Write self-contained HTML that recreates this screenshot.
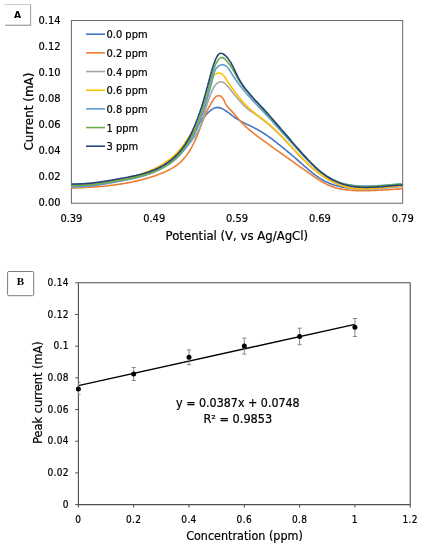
<!DOCTYPE html>
<html lang="en"><head><meta charset="utf-8"><title>Figure</title>
<style>html,body{margin:0;padding:0;background:#fff}svg{display:block}text{font-family:"DejaVu Sans Condensed", "Liberation Sans", sans-serif;fill:#000;stroke:#000;stroke-width:0.2px}</style>
</head><body>
<svg width="425" height="550" viewBox="0 0 425 550">
<rect width="425" height="550" fill="#fff"/>
<path d="M4.5 4.6H30.6" fill="none" stroke="#c8c8c8" stroke-width="1"/>
<path d="M30.6 4.6V25.2" fill="none" stroke="#9c9c9c" stroke-width="1"/>
<path d="M5 25.2H31.1" fill="none" stroke="#8a8a8a" stroke-width="1"/>
<text x="17.5" y="17.6" font-size="9.2" font-weight="bold" text-anchor="middle" style="font-family:'DejaVu Sans',sans-serif;stroke:none">A</text>
<rect x="71.4" y="20.5" width="331.3" height="182.7" fill="none" stroke="#606060" stroke-width="0.95"/>
<clipPath id="ca"><rect x="71.4" y="20.5" width="331.3" height="182.7"/></clipPath>
<g clip-path="url(#ca)" fill="none" stroke-width="1.6" stroke-linejoin="round" stroke-linecap="round">
<path d="M71.5 184.8C71.8 184.8 72.8 184.8 73.5 184.7C74.2 184.7 74.8 184.7 75.5 184.6C76.2 184.6 76.8 184.5 77.5 184.5C78.2 184.5 78.8 184.4 79.5 184.4C80.2 184.3 80.8 184.3 81.5 184.2C82.2 184.2 82.8 184.2 83.5 184.1C84.2 184.1 84.8 184.0 85.5 184.0C86.2 183.9 86.8 183.9 87.5 183.8C88.2 183.7 88.8 183.7 89.5 183.6C90.2 183.6 90.8 183.5 91.5 183.5C92.1 183.4 92.8 183.3 93.5 183.3C94.1 183.2 94.8 183.1 95.5 183.1C96.1 183.0 96.8 182.9 97.4 182.8C98.1 182.8 98.8 182.7 99.4 182.6C100.1 182.5 100.8 182.5 101.4 182.4C102.1 182.3 102.7 182.2 103.4 182.1C104.0 182.1 104.7 182.0 105.4 181.9C106.0 181.8 106.7 181.7 107.3 181.6C108.0 181.5 108.7 181.4 109.3 181.3C110.0 181.2 110.6 181.1 111.3 181.0C111.9 180.9 112.6 180.8 113.3 180.7C113.9 180.6 114.6 180.5 115.2 180.4C115.9 180.3 116.5 180.2 117.2 180.0C117.8 179.9 118.5 179.8 119.1 179.7C119.8 179.6 120.4 179.4 121.1 179.3C121.8 179.2 122.4 179.0 123.1 178.9C123.7 178.8 124.4 178.6 125.0 178.5C125.7 178.4 126.3 178.2 127.0 178.1C127.6 177.9 128.3 177.8 128.9 177.6C129.6 177.5 130.2 177.3 130.9 177.2C131.5 177.0 132.2 176.9 132.8 176.7C133.5 176.6 134.1 176.4 134.8 176.2C135.4 176.1 136.0 175.9 136.7 175.7C137.3 175.5 138.0 175.4 138.6 175.2C139.3 175.0 139.9 174.8 140.6 174.6C141.2 174.5 141.9 174.3 142.5 174.1C143.1 173.9 143.8 173.7 144.4 173.5C145.1 173.3 145.7 173.1 146.4 172.9C147.0 172.7 147.6 172.5 148.3 172.3C148.9 172.1 149.6 171.8 150.2 171.6C150.8 171.4 151.5 171.2 152.1 170.9C152.7 170.7 153.4 170.5 154.0 170.2C154.6 170.0 155.3 169.7 155.9 169.5C156.5 169.2 157.1 169.0 157.7 168.7C158.3 168.4 158.9 168.2 159.6 167.9C160.2 167.6 160.8 167.3 161.4 167.0C161.9 166.7 162.5 166.4 163.1 166.1C163.7 165.8 164.3 165.5 164.9 165.2C165.4 164.8 166.0 164.5 166.6 164.1C167.1 163.8 167.7 163.4 168.2 163.1C168.8 162.7 169.3 162.3 169.8 162.0C170.4 161.6 170.9 161.2 171.4 160.8C171.9 160.4 172.4 160.0 172.9 159.5C173.4 159.1 173.9 158.7 174.4 158.2C174.9 157.8 175.4 157.4 175.8 156.9C176.3 156.4 176.8 156.0 177.2 155.5C177.7 155.0 178.2 154.5 178.6 154.1C179.0 153.6 179.5 153.1 179.9 152.6C180.3 152.1 180.8 151.6 181.2 151.0C181.6 150.5 182.0 150.0 182.4 149.5C182.9 149.0 183.3 148.4 183.7 147.9C184.1 147.3 184.4 146.8 184.8 146.3C185.2 145.7 185.6 145.2 186.0 144.6C186.4 144.0 186.7 143.5 187.1 142.9C187.5 142.4 187.8 141.8 188.2 141.2C188.6 140.6 188.9 140.1 189.3 139.5C189.6 138.9 190.0 138.3 190.4 137.8C190.7 137.2 191.1 136.6 191.4 136.0C191.8 135.5 192.1 134.9 192.5 134.3C192.8 133.7 193.2 133.1 193.5 132.6C193.9 132.0 194.2 131.4 194.6 130.8C194.9 130.2 195.3 129.7 195.6 129.1C196.0 128.5 196.3 127.9 196.7 127.4C197.0 126.8 197.4 126.2 197.7 125.7C198.1 125.1 198.5 124.6 198.8 124.0C199.2 123.4 199.6 122.9 200.0 122.4C200.3 121.8 200.7 121.3 201.1 120.7C201.5 120.2 201.9 119.7 202.3 119.1C202.7 118.6 203.1 118.1 203.5 117.6C204.0 117.1 204.4 116.6 204.8 116.1C205.3 115.6 205.7 115.1 206.2 114.6C206.6 114.1 207.1 113.7 207.5 113.2C208.0 112.7 208.5 112.3 209.0 111.8C209.5 111.4 210.0 111.0 210.5 110.5C211.1 110.1 211.6 109.7 212.1 109.4C212.7 109.0 213.2 108.7 213.8 108.4C214.4 108.1 214.9 107.9 215.5 107.7C216.1 107.5 216.7 107.4 217.2 107.4C217.8 107.4 218.4 107.5 219.0 107.6C219.6 107.7 220.2 107.9 220.7 108.1C221.3 108.4 221.9 108.6 222.5 108.9C223.1 109.2 223.7 109.5 224.3 109.9C224.8 110.2 225.4 110.6 226.0 111.0C226.6 111.4 227.1 111.8 227.7 112.2C228.3 112.6 228.9 113.0 229.5 113.5C230.0 113.9 230.6 114.3 231.2 114.8C231.8 115.2 232.3 115.6 232.9 116.1C233.5 116.5 234.1 116.9 234.6 117.3C235.2 117.7 235.8 118.1 236.4 118.5C237.0 118.9 237.5 119.2 238.1 119.6C238.7 119.9 239.3 120.3 239.8 120.6C240.4 120.9 241.0 121.3 241.6 121.6C242.2 121.9 242.7 122.2 243.3 122.5C243.9 122.8 244.5 123.1 245.1 123.4C245.6 123.7 246.2 124.0 246.8 124.2C247.4 124.5 247.9 124.8 248.5 125.1C249.1 125.3 249.7 125.6 250.3 125.9C250.8 126.2 251.4 126.5 252.0 126.7C252.6 127.0 253.1 127.3 253.7 127.6C254.3 127.9 254.9 128.2 255.4 128.5C256.0 128.8 256.6 129.1 257.2 129.4C257.7 129.7 258.3 130.0 258.9 130.3C259.4 130.7 260.0 131.0 260.6 131.3C261.1 131.7 261.7 132.0 262.3 132.4C262.8 132.7 263.4 133.1 264.0 133.5C264.5 133.8 265.1 134.2 265.6 134.6C266.2 135.0 266.8 135.3 267.3 135.7C267.9 136.1 268.4 136.5 269.0 136.9C269.5 137.3 270.1 137.7 270.6 138.1C271.2 138.5 271.7 138.9 272.3 139.3C272.8 139.7 273.4 140.1 273.9 140.6C274.5 141.0 275.0 141.4 275.5 141.8C276.1 142.2 276.6 142.6 277.2 143.1C277.7 143.5 278.2 143.9 278.7 144.3C279.3 144.7 279.8 145.2 280.3 145.6C280.9 146.0 281.4 146.4 281.9 146.9C282.4 147.3 282.9 147.7 283.5 148.1C284.0 148.5 284.5 149.0 285.0 149.4C285.5 149.8 286.0 150.2 286.5 150.6C287.0 151.1 287.5 151.5 288.0 151.9C288.5 152.3 289.1 152.8 289.6 153.2C290.1 153.6 290.6 154.0 291.1 154.5C291.6 154.9 292.1 155.3 292.6 155.7C293.1 156.2 293.6 156.6 294.1 157.0C294.6 157.4 295.1 157.9 295.5 158.3C296.0 158.7 296.5 159.2 297.0 159.6C297.5 160.0 298.0 160.4 298.5 160.9C299.0 161.3 299.5 161.8 300.0 162.2C300.5 162.6 301.0 163.1 301.5 163.5C302.0 164.0 302.5 164.4 303.0 164.8C303.6 165.3 304.1 165.7 304.6 166.2C305.1 166.6 305.6 167.1 306.1 167.5C306.6 168.0 307.1 168.4 307.6 168.9C308.1 169.3 308.7 169.8 309.2 170.2C309.7 170.6 310.2 171.1 310.7 171.5C311.3 171.9 311.8 172.4 312.3 172.8C312.8 173.2 313.4 173.6 313.9 174.1C314.4 174.5 315.0 174.9 315.5 175.3C316.1 175.7 316.6 176.1 317.2 176.5C317.7 176.8 318.3 177.2 318.8 177.6C319.4 178.0 319.9 178.3 320.5 178.7C321.1 179.0 321.6 179.4 322.2 179.7C322.8 180.0 323.3 180.4 323.9 180.7C324.5 181.0 325.1 181.3 325.7 181.6C326.3 181.9 326.9 182.1 327.5 182.4C328.1 182.7 328.7 182.9 329.3 183.2C329.9 183.4 330.5 183.7 331.1 183.9C331.7 184.1 332.3 184.4 332.9 184.6C333.5 184.8 334.2 185.0 334.8 185.2C335.4 185.4 336.0 185.6 336.7 185.7C337.3 185.9 337.9 186.1 338.6 186.2C339.2 186.4 339.9 186.6 340.5 186.7C341.1 186.8 341.8 187.0 342.4 187.1C343.1 187.2 343.7 187.3 344.4 187.5C345.0 187.6 345.7 187.7 346.3 187.8C347.0 187.9 347.6 188.0 348.3 188.0C349.0 188.1 349.6 188.2 350.3 188.3C351.0 188.3 351.6 188.4 352.3 188.5C352.9 188.5 353.6 188.6 354.3 188.6C355.0 188.6 355.6 188.7 356.3 188.7C357.0 188.7 357.6 188.8 358.3 188.8C359.0 188.8 359.7 188.8 360.3 188.8C361.0 188.8 361.7 188.8 362.4 188.8C363.0 188.8 363.7 188.8 364.4 188.8C365.1 188.8 365.7 188.8 366.4 188.7C367.1 188.7 367.8 188.7 368.5 188.7C369.1 188.6 369.8 188.6 370.5 188.6C371.2 188.5 371.8 188.5 372.5 188.4C373.2 188.4 373.9 188.4 374.6 188.3C375.2 188.3 375.9 188.2 376.6 188.2C377.3 188.1 377.9 188.0 378.6 188.0C379.3 187.9 380.0 187.9 380.6 187.8C381.3 187.7 382.0 187.7 382.6 187.6C383.3 187.6 384.0 187.5 384.7 187.4C385.3 187.4 386.0 187.3 386.7 187.2C387.3 187.2 388.0 187.1 388.6 187.0C389.3 187.0 390.0 186.9 390.6 186.9C391.3 186.8 391.9 186.7 392.6 186.7C393.2 186.6 393.9 186.5 394.5 186.5C395.2 186.4 395.8 186.4 396.5 186.3C397.1 186.3 397.8 186.2 398.4 186.2C399.0 186.1 399.7 186.1 400.3 186.0C400.9 186.0 401.7 185.9 402.2 185.9C402.7 185.9 403.2 185.8 403.4 185.8" stroke="#4472C4"/>
<path d="M71.5 188.0C71.8 188.0 72.8 188.0 73.5 187.9C74.2 187.9 74.8 187.9 75.5 187.9C76.2 187.8 76.8 187.8 77.5 187.8C78.2 187.8 78.8 187.7 79.5 187.7C80.2 187.7 80.8 187.7 81.5 187.6C82.2 187.6 82.8 187.6 83.5 187.5C84.2 187.5 84.8 187.5 85.5 187.4C86.2 187.4 86.8 187.4 87.5 187.3C88.2 187.3 88.8 187.3 89.5 187.2C90.2 187.2 90.8 187.1 91.5 187.1C92.2 187.1 92.8 187.0 93.5 187.0C94.2 186.9 94.8 186.9 95.5 186.8C96.2 186.8 96.8 186.7 97.5 186.7C98.2 186.6 98.8 186.6 99.5 186.5C100.1 186.5 100.8 186.4 101.5 186.3C102.1 186.3 102.8 186.2 103.5 186.2C104.1 186.1 104.8 186.0 105.4 186.0C106.1 185.9 106.8 185.8 107.4 185.8C108.1 185.7 108.7 185.6 109.4 185.5C110.1 185.5 110.7 185.4 111.4 185.3C112.1 185.2 112.7 185.1 113.4 185.1C114.0 185.0 114.7 184.9 115.3 184.8C116.0 184.7 116.7 184.6 117.3 184.5C118.0 184.4 118.6 184.3 119.3 184.2C119.9 184.1 120.6 184.0 121.3 183.9C121.9 183.8 122.6 183.7 123.2 183.6C123.9 183.5 124.5 183.4 125.2 183.3C125.8 183.2 126.5 183.0 127.2 182.9C127.8 182.8 128.5 182.7 129.1 182.5C129.8 182.4 130.4 182.3 131.1 182.2C131.7 182.0 132.4 181.9 133.0 181.7C133.7 181.6 134.3 181.5 135.0 181.3C135.6 181.2 136.3 181.0 136.9 180.9C137.6 180.7 138.2 180.6 138.9 180.4C139.5 180.3 140.2 180.1 140.8 179.9C141.5 179.8 142.1 179.6 142.7 179.4C143.4 179.3 144.0 179.1 144.7 178.9C145.3 178.7 146.0 178.5 146.6 178.4C147.3 178.2 147.9 178.0 148.5 177.8C149.2 177.6 149.8 177.4 150.5 177.2C151.1 177.0 151.7 176.8 152.4 176.6C153.0 176.4 153.7 176.2 154.3 176.0C154.9 175.8 155.6 175.5 156.2 175.3C156.8 175.1 157.5 174.9 158.1 174.6C158.8 174.4 159.4 174.2 160.0 173.9C160.6 173.7 161.3 173.4 161.9 173.2C162.5 172.9 163.1 172.7 163.8 172.4C164.4 172.1 165.0 171.9 165.6 171.6C166.2 171.3 166.8 171.0 167.4 170.7C168.0 170.4 168.6 170.1 169.2 169.8C169.8 169.5 170.4 169.2 171.0 168.9C171.5 168.6 172.1 168.2 172.7 167.9C173.2 167.6 173.8 167.2 174.4 166.9C174.9 166.5 175.4 166.1 176.0 165.8C176.5 165.4 177.0 165.0 177.6 164.6C178.1 164.2 178.6 163.8 179.1 163.4C179.6 163.0 180.1 162.5 180.6 162.1C181.0 161.7 181.5 161.2 182.0 160.7C182.4 160.3 182.9 159.8 183.3 159.3C183.8 158.8 184.2 158.3 184.6 157.8C185.0 157.3 185.4 156.8 185.9 156.3C186.3 155.8 186.7 155.3 187.0 154.7C187.4 154.2 187.8 153.6 188.2 153.1C188.6 152.5 188.9 152.0 189.3 151.4C189.6 150.8 190.0 150.3 190.3 149.7C190.7 149.1 191.0 148.5 191.3 147.9C191.7 147.4 192.0 146.8 192.3 146.2C192.6 145.6 192.9 145.0 193.2 144.3C193.5 143.7 193.8 143.1 194.1 142.5C194.4 141.9 194.7 141.3 195.0 140.7C195.3 140.0 195.5 139.4 195.8 138.8C196.1 138.2 196.4 137.5 196.6 136.9C196.9 136.3 197.2 135.6 197.4 135.0C197.7 134.4 197.9 133.7 198.2 133.1C198.4 132.5 198.7 131.9 198.9 131.2C199.2 130.6 199.4 130.0 199.7 129.3C199.9 128.7 200.1 128.1 200.4 127.5C200.6 126.8 200.9 126.2 201.1 125.6C201.3 125.0 201.6 124.3 201.8 123.7C202.0 123.1 202.3 122.5 202.5 121.9C202.7 121.2 203.0 120.6 203.2 120.0C203.5 119.4 203.7 118.8 204.0 118.2C204.2 117.6 204.4 116.9 204.7 116.3C204.9 115.7 205.2 115.1 205.5 114.5C205.7 113.9 206.0 113.3 206.3 112.7C206.5 112.1 206.8 111.5 207.1 110.9C207.4 110.3 207.7 109.7 207.9 109.1C208.2 108.5 208.5 107.9 208.8 107.4C209.2 106.8 209.5 106.2 209.8 105.6C210.1 105.0 210.5 104.4 210.8 103.9C211.1 103.3 211.5 102.7 211.8 102.1C212.2 101.5 212.6 101.0 213.0 100.4C213.3 99.8 213.7 99.3 214.1 98.7C214.6 98.2 215.0 97.6 215.4 97.2C215.9 96.7 216.3 96.3 216.8 96.1C217.4 95.8 217.9 95.6 218.5 95.6C219.0 95.6 219.6 95.7 220.2 95.9C220.7 96.2 221.3 96.5 221.7 97.0C222.2 97.4 222.6 98.0 223.0 98.5C223.4 99.1 223.7 99.8 224.1 100.4C224.4 101.1 224.7 101.8 225.0 102.5C225.3 103.1 225.5 103.8 225.9 104.4C226.2 105.0 226.6 105.5 227.0 106.1C227.4 106.6 227.8 107.1 228.2 107.6C228.7 108.1 229.1 108.6 229.6 109.0C230.0 109.5 230.5 110.0 230.9 110.4C231.4 110.9 231.8 111.4 232.3 111.9C232.7 112.3 233.2 112.8 233.6 113.3C234.0 113.8 234.5 114.3 234.9 114.8C235.4 115.3 235.8 115.8 236.2 116.4C236.7 116.9 237.1 117.4 237.5 117.9C238.0 118.4 238.4 118.9 238.8 119.4C239.3 119.9 239.7 120.4 240.2 120.9C240.6 121.4 241.1 121.9 241.5 122.4C242.0 122.9 242.5 123.3 242.9 123.8C243.4 124.3 243.9 124.8 244.4 125.2C244.8 125.7 245.3 126.1 245.8 126.6C246.3 127.1 246.8 127.5 247.3 128.0C247.8 128.4 248.3 128.8 248.8 129.3C249.3 129.7 249.8 130.1 250.3 130.6C250.8 131.0 251.3 131.4 251.9 131.9C252.4 132.3 252.9 132.7 253.4 133.1C253.9 133.5 254.5 133.9 255.0 134.4C255.5 134.8 256.1 135.2 256.6 135.6C257.1 136.0 257.6 136.4 258.2 136.8C258.7 137.2 259.3 137.6 259.8 138.0C260.3 138.4 260.9 138.8 261.4 139.2C261.9 139.6 262.5 140.0 263.0 140.3C263.6 140.7 264.1 141.1 264.6 141.5C265.2 141.9 265.7 142.3 266.3 142.7C266.8 143.1 267.3 143.5 267.9 143.9C268.4 144.2 269.0 144.6 269.5 145.0C270.0 145.4 270.6 145.8 271.1 146.2C271.7 146.6 272.2 146.9 272.7 147.3C273.3 147.7 273.8 148.1 274.3 148.5C274.9 148.9 275.4 149.3 276.0 149.6C276.5 150.0 277.0 150.4 277.6 150.8C278.1 151.2 278.7 151.6 279.2 152.0C279.7 152.3 280.3 152.7 280.8 153.1C281.4 153.5 281.9 153.9 282.4 154.3C283.0 154.6 283.5 155.0 284.1 155.4C284.6 155.8 285.2 156.2 285.7 156.6C286.2 157.0 286.8 157.3 287.3 157.7C287.9 158.1 288.4 158.5 288.9 158.9C289.5 159.3 290.0 159.7 290.6 160.0C291.1 160.4 291.7 160.8 292.2 161.2C292.7 161.6 293.3 162.0 293.8 162.4C294.4 162.8 294.9 163.1 295.5 163.5C296.0 163.9 296.5 164.3 297.1 164.7C297.6 165.1 298.2 165.5 298.7 165.9C299.3 166.2 299.8 166.6 300.3 167.0C300.9 167.4 301.4 167.8 302.0 168.2C302.5 168.6 303.1 169.0 303.6 169.4C304.2 169.7 304.7 170.1 305.3 170.5C305.8 170.9 306.4 171.3 306.9 171.7C307.4 172.1 308.0 172.4 308.5 172.8C309.1 173.2 309.6 173.6 310.2 174.0C310.7 174.4 311.3 174.8 311.8 175.1C312.4 175.5 312.9 175.9 313.5 176.3C314.0 176.7 314.6 177.0 315.1 177.4C315.7 177.8 316.3 178.2 316.8 178.5C317.4 178.9 317.9 179.3 318.5 179.6C319.1 180.0 319.6 180.3 320.2 180.7C320.8 181.0 321.3 181.4 321.9 181.7C322.5 182.0 323.0 182.4 323.6 182.7C324.2 183.0 324.8 183.3 325.4 183.6C326.0 183.9 326.6 184.2 327.1 184.5C327.7 184.8 328.3 185.1 328.9 185.3C329.5 185.6 330.2 185.9 330.8 186.1C331.4 186.3 332.0 186.6 332.6 186.8C333.2 187.0 333.9 187.2 334.5 187.4C335.1 187.6 335.8 187.8 336.4 188.0C337.1 188.2 337.7 188.3 338.4 188.5C339.0 188.6 339.7 188.8 340.3 188.9C341.0 189.0 341.6 189.1 342.3 189.2C343.0 189.4 343.6 189.5 344.3 189.6C345.0 189.7 345.6 189.7 346.3 189.8C347.0 189.9 347.6 190.0 348.3 190.0C349.0 190.1 349.6 190.2 350.3 190.2C351.0 190.3 351.7 190.3 352.3 190.4C353.0 190.4 353.7 190.4 354.3 190.5C355.0 190.5 355.7 190.5 356.3 190.6C357.0 190.6 357.7 190.6 358.3 190.6C359.0 190.6 359.7 190.7 360.3 190.7C361.0 190.7 361.7 190.7 362.3 190.7C363.0 190.7 363.7 190.7 364.3 190.7C365.0 190.7 365.7 190.7 366.3 190.7C367.0 190.7 367.7 190.6 368.3 190.6C369.0 190.6 369.7 190.6 370.3 190.6C371.0 190.6 371.6 190.5 372.3 190.5C373.0 190.5 373.6 190.5 374.3 190.4C375.0 190.4 375.6 190.4 376.3 190.4C377.0 190.3 377.6 190.3 378.3 190.3C378.9 190.3 379.6 190.2 380.3 190.2C380.9 190.2 381.6 190.1 382.3 190.1C382.9 190.1 383.6 190.0 384.3 190.0C384.9 189.9 385.6 189.9 386.2 189.9C386.9 189.8 387.6 189.8 388.2 189.7C388.9 189.7 389.6 189.7 390.2 189.6C390.9 189.6 391.6 189.5 392.2 189.5C392.9 189.4 393.6 189.4 394.2 189.3C394.9 189.3 395.6 189.2 396.2 189.2C396.9 189.1 397.6 189.1 398.2 189.0C398.9 188.9 399.6 188.9 400.2 188.8C400.9 188.8 401.7 188.7 402.2 188.6C402.8 188.6 403.2 188.5 403.4 188.5" stroke="#ED7D31"/>
<path d="M71.5 186.7C71.8 186.6 72.9 186.6 73.5 186.6C74.2 186.6 74.8 186.6 75.5 186.6C76.2 186.5 76.8 186.5 77.5 186.5C78.1 186.5 78.8 186.4 79.5 186.4C80.1 186.4 80.8 186.3 81.4 186.3C82.1 186.2 82.8 186.2 83.4 186.2C84.1 186.1 84.8 186.1 85.4 186.0C86.1 186.0 86.7 185.9 87.4 185.8C88.1 185.8 88.7 185.7 89.4 185.7C90.1 185.6 90.7 185.5 91.4 185.5C92.1 185.4 92.7 185.3 93.4 185.3C94.1 185.2 94.7 185.1 95.4 185.0C96.0 185.0 96.7 184.9 97.4 184.8C98.0 184.7 98.7 184.6 99.4 184.5C100.0 184.5 100.7 184.4 101.4 184.3C102.0 184.2 102.7 184.1 103.3 184.0C104.0 183.9 104.7 183.8 105.3 183.7C106.0 183.6 106.7 183.5 107.3 183.4C108.0 183.3 108.7 183.2 109.3 183.1C110.0 183.0 110.6 182.9 111.3 182.7C112.0 182.6 112.6 182.5 113.3 182.4C113.9 182.3 114.6 182.2 115.3 182.1C115.9 181.9 116.6 181.8 117.2 181.7C117.9 181.6 118.5 181.4 119.2 181.3C119.9 181.2 120.5 181.1 121.2 180.9C121.8 180.8 122.5 180.7 123.1 180.5C123.8 180.4 124.4 180.3 125.1 180.1C125.8 180.0 126.4 179.9 127.1 179.7C127.7 179.6 128.4 179.4 129.0 179.3C129.7 179.1 130.3 179.0 131.0 178.8C131.6 178.7 132.2 178.5 132.9 178.4C133.5 178.2 134.2 178.1 134.8 177.9C135.5 177.7 136.1 177.6 136.8 177.4C137.4 177.2 138.0 177.1 138.7 176.9C139.3 176.7 140.0 176.5 140.6 176.4C141.2 176.2 141.9 176.0 142.5 175.8C143.1 175.6 143.8 175.4 144.4 175.2C145.0 175.0 145.7 174.8 146.3 174.6C146.9 174.4 147.6 174.2 148.2 174.0C148.8 173.8 149.4 173.5 150.1 173.3C150.7 173.1 151.3 172.9 151.9 172.6C152.6 172.4 153.2 172.2 153.8 171.9C154.4 171.7 155.0 171.4 155.6 171.2C156.3 170.9 156.9 170.7 157.5 170.4C158.1 170.1 158.7 169.8 159.3 169.6C159.9 169.3 160.5 169.0 161.1 168.7C161.7 168.4 162.3 168.1 162.9 167.8C163.5 167.5 164.1 167.2 164.7 166.9C165.3 166.6 165.8 166.2 166.4 165.9C167.0 165.6 167.6 165.2 168.1 164.9C168.7 164.5 169.2 164.1 169.8 163.8C170.3 163.4 170.9 163.0 171.4 162.6C172.0 162.2 172.5 161.8 173.0 161.4C173.5 161.0 174.1 160.6 174.6 160.1C175.1 159.7 175.6 159.2 176.1 158.8C176.6 158.3 177.0 157.9 177.5 157.4C178.0 156.9 178.5 156.4 178.9 155.9C179.4 155.4 179.9 154.9 180.3 154.4C180.8 153.9 181.2 153.4 181.7 152.9C182.1 152.4 182.6 151.9 183.0 151.4C183.4 150.9 183.9 150.3 184.3 149.8C184.7 149.3 185.1 148.8 185.5 148.3C186.0 147.7 186.4 147.2 186.8 146.7C187.2 146.2 187.6 145.7 188.0 145.2C188.4 144.7 188.9 144.1 189.3 143.6C189.7 143.1 190.1 142.7 190.5 142.2C190.9 141.7 191.3 141.2 191.7 140.7C192.1 140.2 192.5 139.7 192.9 139.3C193.3 138.8 193.7 138.3 194.1 137.8C194.5 137.2 194.8 136.7 195.2 136.2C195.6 135.6 196.0 135.1 196.3 134.5C196.7 133.9 197.0 133.3 197.4 132.7C197.7 132.1 198.0 131.4 198.4 130.8C198.7 130.2 199.0 129.5 199.3 128.9C199.6 128.2 199.9 127.6 200.2 126.9C200.4 126.3 200.7 125.6 200.9 125.0C201.2 124.4 201.4 123.7 201.6 123.1C201.8 122.5 202.1 121.9 202.3 121.3C202.5 120.6 202.6 120.0 202.8 119.4C203.0 118.8 203.2 118.2 203.4 117.6C203.5 117.0 203.7 116.4 203.9 115.8C204.0 115.2 204.2 114.5 204.4 113.9C204.5 113.3 204.7 112.7 204.9 112.1C205.0 111.5 205.2 110.9 205.4 110.2C205.5 109.6 205.7 109.0 205.9 108.4C206.1 107.7 206.2 107.1 206.4 106.4C206.6 105.8 206.8 105.1 207.0 104.5C207.2 103.8 207.4 103.2 207.7 102.5C207.9 101.8 208.1 101.2 208.3 100.5C208.6 99.8 208.8 99.1 209.1 98.5C209.3 97.8 209.6 97.1 209.8 96.5C210.1 95.8 210.3 95.1 210.6 94.5C210.8 93.9 211.1 93.2 211.4 92.6C211.6 91.9 211.9 91.3 212.2 90.7C212.4 90.1 212.7 89.5 213.0 88.9C213.3 88.4 213.5 87.8 213.8 87.3C214.1 86.7 214.4 86.2 214.8 85.7C215.2 85.2 215.5 84.7 216.0 84.3C216.4 83.8 216.9 83.4 217.4 83.1C217.9 82.7 218.5 82.4 219.0 82.2C219.5 82.0 220.1 81.8 220.7 81.8C221.2 81.8 221.8 81.8 222.4 82.0C222.9 82.2 223.5 82.5 224.1 82.8C224.6 83.2 225.1 83.7 225.7 84.2C226.2 84.7 226.7 85.2 227.2 85.8C227.7 86.3 228.2 86.9 228.7 87.5C229.2 88.1 229.6 88.6 230.1 89.2C230.6 89.8 231.0 90.3 231.4 90.8C231.8 91.4 232.2 91.8 232.6 92.3C233.0 92.8 233.4 93.3 233.8 93.8C234.2 94.3 234.6 94.8 235.0 95.3C235.4 95.8 235.9 96.3 236.3 96.8C236.7 97.3 237.1 97.8 237.6 98.3C238.0 98.8 238.4 99.3 238.9 99.9C239.3 100.4 239.8 100.9 240.2 101.4C240.7 101.9 241.2 102.4 241.6 102.9C242.1 103.5 242.6 104.0 243.1 104.4C243.5 104.9 244.0 105.4 244.5 105.9C245.0 106.4 245.5 106.8 246.0 107.3C246.5 107.7 247.0 108.2 247.5 108.6C248.0 109.0 248.5 109.4 249.0 109.8C249.5 110.2 250.0 110.6 250.6 111.0C251.1 111.3 251.6 111.7 252.1 112.0C252.6 112.4 253.2 112.7 253.7 113.1C254.2 113.5 254.7 113.8 255.3 114.2C255.8 114.5 256.3 114.9 256.9 115.3C257.4 115.7 257.9 116.1 258.5 116.4C259.0 116.8 259.5 117.2 260.1 117.6C260.6 118.0 261.1 118.4 261.7 118.8C262.2 119.2 262.7 119.6 263.2 120.0C263.8 120.4 264.3 120.9 264.8 121.3C265.4 121.7 265.9 122.1 266.4 122.6C266.9 123.0 267.5 123.4 268.0 123.9C268.5 124.3 269.0 124.7 269.6 125.2C270.1 125.6 270.6 126.1 271.1 126.5C271.6 126.9 272.1 127.4 272.6 127.9C273.1 128.3 273.6 128.8 274.1 129.2C274.6 129.7 275.1 130.1 275.6 130.6C276.1 131.1 276.6 131.5 277.1 132.0C277.6 132.5 278.0 132.9 278.5 133.4C279.0 133.9 279.5 134.3 280.0 134.8C280.4 135.3 280.9 135.8 281.4 136.3C281.8 136.7 282.3 137.2 282.8 137.7C283.2 138.2 283.7 138.6 284.2 139.1C284.6 139.6 285.1 140.1 285.5 140.6C286.0 141.1 286.5 141.5 286.9 142.0C287.4 142.5 287.8 143.0 288.3 143.5C288.7 144.0 289.2 144.5 289.6 145.0C290.1 145.4 290.5 145.9 291.0 146.4C291.4 146.9 291.9 147.4 292.3 147.9C292.8 148.4 293.2 148.8 293.7 149.3C294.1 149.8 294.6 150.3 295.0 150.8C295.5 151.3 295.9 151.8 296.4 152.2C296.8 152.7 297.3 153.2 297.7 153.7C298.2 154.2 298.6 154.6 299.1 155.1C299.6 155.6 300.0 156.1 300.5 156.6C300.9 157.0 301.4 157.5 301.8 158.0C302.3 158.5 302.8 158.9 303.2 159.4C303.7 159.9 304.2 160.3 304.6 160.8C305.1 161.3 305.6 161.7 306.1 162.2C306.5 162.6 307.0 163.1 307.5 163.6C308.0 164.0 308.5 164.5 308.9 164.9C309.4 165.4 309.9 165.8 310.4 166.3C310.9 166.7 311.4 167.1 311.9 167.6C312.4 168.0 312.9 168.5 313.4 168.9C313.9 169.3 314.4 169.7 315.0 170.2C315.5 170.6 316.0 171.0 316.5 171.4C317.0 171.8 317.6 172.3 318.1 172.7C318.6 173.1 319.2 173.5 319.7 173.9C320.3 174.3 320.8 174.7 321.4 175.1C321.9 175.5 322.5 175.8 323.0 176.2C323.6 176.6 324.1 177.0 324.7 177.3C325.3 177.7 325.8 178.1 326.4 178.4C327.0 178.8 327.6 179.1 328.1 179.5C328.7 179.8 329.3 180.2 329.9 180.5C330.5 180.8 331.1 181.1 331.7 181.4C332.3 181.8 332.9 182.1 333.5 182.4C334.1 182.7 334.7 183.0 335.3 183.2C335.9 183.5 336.5 183.8 337.1 184.1C337.7 184.3 338.3 184.6 338.9 184.8C339.6 185.1 340.2 185.3 340.8 185.5C341.4 185.8 342.0 186.0 342.7 186.2C343.3 186.4 343.9 186.6 344.6 186.8C345.2 187.0 345.8 187.2 346.5 187.3C347.1 187.5 347.7 187.7 348.4 187.8C349.0 188.0 349.7 188.1 350.3 188.2C351.0 188.4 351.6 188.5 352.3 188.6C352.9 188.7 353.5 188.8 354.2 188.9C354.9 189.0 355.5 189.1 356.2 189.1C356.8 189.2 357.5 189.3 358.1 189.3C358.8 189.4 359.4 189.4 360.1 189.4C360.8 189.5 361.4 189.5 362.1 189.5C362.8 189.5 363.4 189.5 364.1 189.6C364.7 189.6 365.4 189.6 366.1 189.5C366.7 189.5 367.4 189.5 368.1 189.5C368.7 189.5 369.4 189.5 370.1 189.4C370.8 189.4 371.4 189.4 372.1 189.3C372.8 189.3 373.4 189.2 374.1 189.2C374.8 189.1 375.4 189.1 376.1 189.0C376.8 189.0 377.5 188.9 378.1 188.9C378.8 188.8 379.5 188.7 380.1 188.7C380.8 188.6 381.5 188.5 382.2 188.5C382.8 188.4 383.5 188.3 384.2 188.3C384.8 188.2 385.5 188.1 386.2 188.1C386.8 188.0 387.5 187.9 388.2 187.8C388.9 187.8 389.5 187.7 390.2 187.6C390.9 187.6 391.5 187.5 392.2 187.4C392.9 187.4 393.5 187.3 394.2 187.2C394.8 187.2 395.5 187.1 396.2 187.1C396.8 187.0 397.5 186.9 398.1 186.9C398.8 186.8 399.5 186.8 400.1 186.7C400.8 186.7 401.5 186.7 402.1 186.6C402.6 186.6 403.2 186.6 403.4 186.6" stroke="#A5A5A5"/>
<path d="M71.5 185.7C71.8 185.7 72.9 185.7 73.5 185.7C74.2 185.7 74.8 185.7 75.5 185.7C76.2 185.6 76.8 185.6 77.5 185.6C78.1 185.6 78.8 185.5 79.4 185.5C80.1 185.5 80.8 185.4 81.4 185.4C82.1 185.4 82.7 185.3 83.4 185.3C84.1 185.2 84.7 185.2 85.4 185.1C86.1 185.1 86.7 185.0 87.4 185.0C88.0 184.9 88.7 184.8 89.4 184.8C90.0 184.7 90.7 184.6 91.4 184.6C92.0 184.5 92.7 184.4 93.4 184.4C94.0 184.3 94.7 184.2 95.4 184.1C96.0 184.1 96.7 184.0 97.3 183.9C98.0 183.8 98.7 183.7 99.3 183.6C100.0 183.5 100.7 183.4 101.3 183.3C102.0 183.2 102.7 183.1 103.3 183.0C104.0 182.9 104.7 182.8 105.3 182.7C106.0 182.6 106.6 182.5 107.3 182.4C108.0 182.3 108.6 182.2 109.3 182.1C110.0 181.9 110.6 181.8 111.3 181.7C111.9 181.6 112.6 181.4 113.3 181.3C113.9 181.2 114.6 181.1 115.2 180.9C115.9 180.8 116.5 180.7 117.2 180.5C117.9 180.4 118.5 180.3 119.2 180.1C119.8 180.0 120.5 179.8 121.1 179.7C121.8 179.5 122.4 179.4 123.1 179.2C123.7 179.1 124.4 178.9 125.0 178.8C125.7 178.6 126.3 178.5 127.0 178.3C127.6 178.1 128.3 178.0 128.9 177.8C129.6 177.6 130.2 177.5 130.9 177.3C131.5 177.1 132.1 176.9 132.8 176.7C133.4 176.6 134.0 176.4 134.7 176.2C135.3 176.0 136.0 175.8 136.6 175.6C137.2 175.4 137.9 175.2 138.5 175.0C139.1 174.8 139.7 174.6 140.4 174.4C141.0 174.1 141.6 173.9 142.2 173.7C142.9 173.5 143.5 173.3 144.1 173.0C144.7 172.8 145.3 172.6 146.0 172.3C146.6 172.1 147.2 171.8 147.8 171.6C148.4 171.3 149.0 171.1 149.6 170.8C150.2 170.5 150.8 170.3 151.4 170.0C152.1 169.7 152.7 169.4 153.3 169.2C153.9 168.9 154.4 168.6 155.0 168.3C155.6 168.0 156.2 167.7 156.8 167.4C157.4 167.1 158.0 166.8 158.6 166.5C159.2 166.1 159.7 165.8 160.3 165.5C160.9 165.1 161.5 164.8 162.0 164.5C162.6 164.1 163.2 163.8 163.7 163.4C164.3 163.0 164.9 162.7 165.4 162.3C166.0 161.9 166.5 161.6 167.1 161.2C167.6 160.8 168.1 160.4 168.7 160.0C169.2 159.6 169.7 159.2 170.3 158.8C170.8 158.4 171.3 158.0 171.8 157.5C172.3 157.1 172.8 156.7 173.3 156.2C173.8 155.8 174.3 155.3 174.8 154.9C175.3 154.4 175.8 154.0 176.3 153.5C176.7 153.0 177.2 152.5 177.7 152.0C178.1 151.5 178.6 151.0 179.0 150.5C179.5 150.0 179.9 149.5 180.3 149.0C180.7 148.5 181.2 148.0 181.6 147.4C182.0 146.9 182.4 146.3 182.8 145.8C183.2 145.3 183.6 144.7 184.0 144.2C184.4 143.6 184.8 143.1 185.1 142.5C185.5 142.0 185.9 141.4 186.3 140.8C186.6 140.3 187.0 139.7 187.4 139.2C187.8 138.7 188.1 138.1 188.5 137.6C188.8 137.1 189.2 136.5 189.6 136.0C189.9 135.5 190.3 134.9 190.7 134.4C191.0 133.9 191.4 133.3 191.8 132.8C192.1 132.3 192.5 131.7 192.9 131.2C193.2 130.6 193.6 130.1 194.0 129.5C194.3 128.9 194.7 128.4 195.0 127.8C195.4 127.2 195.7 126.7 196.1 126.1C196.4 125.5 196.8 124.9 197.1 124.3C197.4 123.8 197.8 123.2 198.1 122.6C198.4 122.0 198.7 121.4 199.0 120.8C199.3 120.2 199.6 119.6 199.9 119.0C200.2 118.4 200.5 117.8 200.8 117.2C201.0 116.6 201.3 116.0 201.6 115.3C201.8 114.7 202.0 114.1 202.3 113.5C202.5 112.9 202.7 112.2 202.9 111.6C203.1 111.0 203.3 110.4 203.5 109.8C203.7 109.1 203.9 108.5 204.1 107.9C204.3 107.2 204.5 106.6 204.6 106.0C204.8 105.3 205.0 104.7 205.1 104.1C205.3 103.4 205.5 102.8 205.6 102.1C205.8 101.5 206.0 100.8 206.1 100.2C206.3 99.6 206.5 98.9 206.6 98.3C206.8 97.6 207.0 97.0 207.2 96.3C207.3 95.7 207.5 95.0 207.7 94.4C207.9 93.7 208.1 93.1 208.3 92.4C208.5 91.7 208.7 91.1 208.9 90.4C209.1 89.8 209.3 89.1 209.5 88.5C209.7 87.8 209.9 87.2 210.1 86.5C210.3 85.9 210.5 85.2 210.7 84.5C210.9 83.9 211.1 83.2 211.3 82.6C211.6 81.9 211.8 81.3 212.0 80.6C212.2 80.0 212.4 79.3 212.6 78.7C212.8 78.1 213.1 77.5 213.4 76.9C213.6 76.3 213.9 75.8 214.3 75.3C214.7 74.8 215.1 74.4 215.6 74.0C216.1 73.7 216.7 73.4 217.3 73.2C217.9 73.1 218.6 73.0 219.1 73.0C219.7 73.0 220.3 73.2 220.8 73.4C221.3 73.6 221.8 73.9 222.3 74.3C222.8 74.7 223.2 75.1 223.6 75.6C224.1 76.1 224.5 76.7 224.9 77.3C225.3 77.9 225.7 78.5 226.1 79.1C226.5 79.7 226.9 80.4 227.2 81.0C227.6 81.6 228.0 82.1 228.4 82.7C228.8 83.3 229.2 83.8 229.6 84.4C229.9 85.0 230.3 85.5 230.7 86.0C231.1 86.6 231.5 87.1 231.9 87.7C232.3 88.2 232.6 88.7 233.0 89.2C233.4 89.8 233.8 90.3 234.2 90.8C234.6 91.3 235.0 91.8 235.4 92.4C235.8 92.9 236.2 93.4 236.6 93.9C237.0 94.5 237.4 95.0 237.8 95.5C238.2 96.0 238.6 96.6 239.0 97.1C239.5 97.6 239.9 98.1 240.3 98.7C240.7 99.2 241.1 99.7 241.6 100.2C242.0 100.7 242.4 101.2 242.9 101.7C243.3 102.3 243.8 102.8 244.2 103.3C244.7 103.7 245.1 104.2 245.6 104.7C246.0 105.2 246.5 105.7 247.0 106.2C247.5 106.6 247.9 107.1 248.4 107.6C248.9 108.0 249.4 108.5 249.9 108.9C250.4 109.4 250.9 109.8 251.4 110.3C251.9 110.7 252.4 111.1 252.9 111.5C253.4 112.0 254.0 112.4 254.5 112.8C255.0 113.2 255.5 113.6 256.1 114.1C256.6 114.5 257.1 114.9 257.6 115.3C258.2 115.7 258.7 116.1 259.2 116.5C259.8 116.9 260.3 117.3 260.8 117.7C261.4 118.1 261.9 118.5 262.4 118.9C262.9 119.4 263.5 119.8 264.0 120.2C264.5 120.6 265.0 121.0 265.6 121.4C266.1 121.8 266.6 122.2 267.1 122.7C267.6 123.1 268.1 123.5 268.6 123.9C269.2 124.4 269.7 124.8 270.2 125.2C270.7 125.7 271.1 126.1 271.6 126.6C272.1 127.0 272.6 127.5 273.1 127.9C273.6 128.4 274.1 128.8 274.6 129.3C275.0 129.7 275.5 130.2 276.0 130.6C276.5 131.1 276.9 131.6 277.4 132.0C277.9 132.5 278.3 133.0 278.8 133.5C279.3 133.9 279.7 134.4 280.2 134.9C280.7 135.3 281.1 135.8 281.6 136.3C282.0 136.8 282.5 137.3 283.0 137.7C283.4 138.2 283.9 138.7 284.3 139.2C284.8 139.7 285.2 140.2 285.7 140.7C286.1 141.1 286.6 141.6 287.0 142.1C287.5 142.6 287.9 143.1 288.4 143.6C288.8 144.1 289.3 144.6 289.7 145.1C290.2 145.6 290.6 146.0 291.1 146.5C291.5 147.0 292.0 147.5 292.4 148.0C292.9 148.5 293.3 149.0 293.8 149.5C294.3 150.0 294.7 150.5 295.2 151.0C295.6 151.4 296.1 151.9 296.5 152.4C297.0 152.9 297.4 153.4 297.9 153.9C298.3 154.4 298.8 154.8 299.3 155.3C299.7 155.8 300.2 156.3 300.7 156.8C301.1 157.2 301.6 157.7 302.1 158.2C302.5 158.7 303.0 159.2 303.5 159.6C303.9 160.1 304.4 160.6 304.9 161.0C305.4 161.5 305.9 162.0 306.3 162.4C306.8 162.9 307.3 163.4 307.8 163.8C308.3 164.3 308.8 164.7 309.3 165.2C309.8 165.6 310.3 166.1 310.8 166.5C311.3 167.0 311.8 167.4 312.3 167.8C312.8 168.3 313.3 168.7 313.9 169.1C314.4 169.6 314.9 170.0 315.4 170.4C315.9 170.8 316.5 171.3 317.0 171.7C317.5 172.1 318.1 172.5 318.6 172.9C319.1 173.3 319.7 173.7 320.2 174.1C320.8 174.5 321.3 174.9 321.9 175.2C322.4 175.6 323.0 176.0 323.5 176.4C324.1 176.7 324.6 177.1 325.2 177.5C325.8 177.8 326.3 178.2 326.9 178.5C327.5 178.9 328.1 179.2 328.6 179.5C329.2 179.8 329.8 180.2 330.4 180.5C330.9 180.8 331.5 181.1 332.1 181.4C332.7 181.7 333.3 182.0 333.9 182.3C334.5 182.6 335.1 182.9 335.7 183.1C336.3 183.4 336.9 183.7 337.5 183.9C338.1 184.2 338.7 184.4 339.3 184.6C339.9 184.9 340.6 185.1 341.2 185.3C341.8 185.5 342.4 185.7 343.0 185.9C343.7 186.1 344.3 186.3 344.9 186.5C345.6 186.7 346.2 186.8 346.8 187.0C347.5 187.1 348.1 187.3 348.7 187.4C349.4 187.6 350.0 187.7 350.7 187.8C351.3 187.9 352.0 188.0 352.6 188.1C353.3 188.2 353.9 188.3 354.6 188.4C355.2 188.4 355.9 188.5 356.6 188.6C357.2 188.6 357.9 188.6 358.6 188.7C359.2 188.7 359.9 188.7 360.6 188.8C361.2 188.8 361.9 188.8 362.6 188.8C363.3 188.8 363.9 188.8 364.6 188.8C365.3 188.8 366.0 188.8 366.6 188.7C367.3 188.7 368.0 188.7 368.7 188.7C369.3 188.6 370.0 188.6 370.7 188.6C371.4 188.5 372.1 188.5 372.7 188.4C373.4 188.4 374.1 188.3 374.8 188.2C375.5 188.2 376.1 188.1 376.8 188.1C377.5 188.0 378.2 187.9 378.9 187.9C379.5 187.8 380.2 187.7 380.9 187.7C381.6 187.6 382.2 187.5 382.9 187.4C383.6 187.4 384.3 187.3 384.9 187.2C385.6 187.1 386.3 187.1 387.0 187.0C387.6 186.9 388.3 186.9 389.0 186.8C389.6 186.7 390.3 186.6 390.9 186.6C391.6 186.5 392.3 186.4 392.9 186.4C393.6 186.3 394.2 186.3 394.9 186.2C395.5 186.2 396.2 186.1 396.8 186.1C397.5 186.0 398.1 186.0 398.8 185.9C399.4 185.9 400.1 185.8 400.7 185.8C401.3 185.8 402.1 185.8 402.6 185.7C403.0 185.7 403.3 185.7 403.4 185.7" stroke="#FFC000"/>
<path d="M71.5 186.8C71.8 186.8 72.9 186.8 73.6 186.8C74.2 186.8 74.9 186.8 75.5 186.8C76.2 186.8 76.8 186.8 77.5 186.8C78.1 186.8 78.8 186.8 79.4 186.7C80.1 186.7 80.7 186.7 81.4 186.7C82.0 186.6 82.7 186.6 83.4 186.5C84.0 186.5 84.7 186.4 85.3 186.4C86.0 186.3 86.7 186.3 87.3 186.2C88.0 186.1 88.6 186.1 89.3 186.0C90.0 185.9 90.6 185.9 91.3 185.8C92.0 185.7 92.6 185.6 93.3 185.5C94.0 185.4 94.6 185.4 95.3 185.3C96.0 185.2 96.6 185.1 97.3 185.0C98.0 184.9 98.6 184.8 99.3 184.7C100.0 184.6 100.6 184.5 101.3 184.4C102.0 184.3 102.6 184.1 103.3 184.0C104.0 183.9 104.6 183.8 105.3 183.7C106.0 183.6 106.6 183.5 107.3 183.3C107.9 183.2 108.6 183.1 109.3 183.0C109.9 182.9 110.6 182.7 111.3 182.6C111.9 182.5 112.6 182.4 113.3 182.2C113.9 182.1 114.6 182.0 115.3 181.9C115.9 181.7 116.6 181.6 117.3 181.5C117.9 181.4 118.6 181.2 119.2 181.1C119.9 181.0 120.6 180.9 121.2 180.7C121.9 180.6 122.5 180.5 123.2 180.4C123.9 180.3 124.5 180.1 125.2 180.0C125.8 179.9 126.5 179.8 127.1 179.6C127.8 179.5 128.4 179.4 129.1 179.2C129.7 179.1 130.4 179.0 131.0 178.9C131.7 178.7 132.3 178.6 133.0 178.4C133.6 178.3 134.3 178.2 134.9 178.0C135.6 177.9 136.2 177.7 136.9 177.6C137.5 177.4 138.1 177.3 138.8 177.1C139.4 177.0 140.1 176.8 140.7 176.6C141.3 176.5 142.0 176.3 142.6 176.1C143.2 175.9 143.9 175.7 144.5 175.6C145.1 175.4 145.7 175.2 146.4 175.0C147.0 174.8 147.6 174.6 148.2 174.3C148.9 174.1 149.5 173.9 150.1 173.7C150.7 173.5 151.3 173.2 151.9 173.0C152.6 172.7 153.2 172.5 153.8 172.2C154.4 172.0 155.0 171.7 155.6 171.4C156.2 171.2 156.8 170.9 157.4 170.6C158.0 170.3 158.6 170.0 159.2 169.7C159.8 169.4 160.4 169.1 161.0 168.7C161.6 168.4 162.1 168.1 162.7 167.8C163.3 167.4 163.9 167.1 164.5 166.7C165.0 166.4 165.6 166.0 166.2 165.6C166.7 165.3 167.3 164.9 167.8 164.5C168.4 164.1 169.0 163.7 169.5 163.3C170.1 163.0 170.6 162.6 171.1 162.1C171.7 161.7 172.2 161.3 172.7 160.9C173.3 160.5 173.8 160.1 174.3 159.6C174.8 159.2 175.3 158.7 175.8 158.3C176.3 157.9 176.8 157.4 177.3 156.9C177.8 156.5 178.3 156.0 178.8 155.6C179.3 155.1 179.7 154.6 180.2 154.1C180.7 153.6 181.1 153.2 181.6 152.7C182.0 152.2 182.5 151.7 182.9 151.2C183.4 150.7 183.8 150.2 184.2 149.7C184.7 149.2 185.1 148.6 185.5 148.1C185.9 147.6 186.3 147.1 186.7 146.5C187.1 146.0 187.5 145.5 187.9 145.0C188.3 144.4 188.6 143.9 189.0 143.3C189.4 142.8 189.8 142.2 190.1 141.7C190.5 141.1 190.8 140.6 191.2 140.0C191.5 139.4 191.9 138.9 192.2 138.3C192.5 137.7 192.9 137.2 193.2 136.6C193.5 136.0 193.8 135.4 194.1 134.9C194.4 134.3 194.7 133.7 195.0 133.1C195.3 132.5 195.6 131.9 195.9 131.4C196.2 130.8 196.4 130.2 196.7 129.6C197.0 129.0 197.2 128.4 197.5 127.8C197.8 127.2 198.0 126.6 198.3 126.0C198.5 125.3 198.8 124.7 199.0 124.1C199.3 123.5 199.5 122.9 199.7 122.3C200.0 121.7 200.2 121.0 200.4 120.4C200.6 119.8 200.9 119.2 201.1 118.6C201.3 117.9 201.5 117.3 201.7 116.7C201.9 116.0 202.1 115.4 202.3 114.8C202.6 114.2 202.8 113.5 203.0 112.9C203.2 112.3 203.4 111.6 203.6 111.0C203.8 110.3 204.0 109.7 204.1 109.1C204.3 108.4 204.5 107.8 204.7 107.1C204.9 106.5 205.1 105.8 205.3 105.2C205.5 104.6 205.7 103.9 205.9 103.3C206.1 102.6 206.2 102.0 206.4 101.3C206.6 100.7 206.8 100.0 207.0 99.4C207.2 98.7 207.4 98.1 207.6 97.4C207.8 96.8 208.0 96.1 208.1 95.4C208.3 94.8 208.5 94.1 208.7 93.5C208.9 92.8 209.1 92.2 209.3 91.5C209.5 90.9 209.7 90.2 209.9 89.6C210.1 88.9 210.2 88.3 210.4 87.6C210.6 86.9 210.8 86.3 210.9 85.6C211.1 85.0 211.3 84.3 211.5 83.7C211.6 83.0 211.8 82.4 211.9 81.7C212.1 81.0 212.2 80.4 212.3 79.7C212.5 79.1 212.6 78.4 212.7 77.8C212.9 77.1 213.0 76.5 213.1 75.9C213.3 75.2 213.5 74.6 213.6 74.0C213.8 73.3 214.0 72.7 214.3 72.1C214.5 71.5 214.8 70.9 215.1 70.3C215.4 69.7 215.7 69.2 216.1 68.6C216.5 68.1 217.0 67.5 217.4 67.1C217.9 66.6 218.4 66.1 218.9 65.8C219.5 65.4 220.0 65.1 220.6 64.9C221.1 64.7 221.7 64.6 222.3 64.6C222.8 64.6 223.4 64.7 224.0 64.9C224.5 65.1 225.1 65.4 225.6 65.7C226.1 66.1 226.7 66.5 227.1 67.0C227.6 67.4 228.1 68.0 228.5 68.5C228.9 69.0 229.3 69.6 229.7 70.2C230.0 70.8 230.4 71.4 230.7 72.0C231.1 72.5 231.5 73.1 231.8 73.7C232.2 74.3 232.5 74.9 232.9 75.5C233.3 76.1 233.6 76.6 234.0 77.2C234.4 77.8 234.8 78.3 235.2 78.9C235.5 79.5 235.9 80.0 236.3 80.6C236.7 81.1 237.1 81.7 237.5 82.2C237.9 82.8 238.3 83.3 238.7 83.9C239.1 84.4 239.5 84.9 239.9 85.5C240.3 86.0 240.7 86.5 241.1 87.0C241.6 87.6 242.0 88.1 242.4 88.6C242.8 89.1 243.2 89.6 243.7 90.2C244.1 90.7 244.5 91.2 244.9 91.7C245.4 92.2 245.8 92.7 246.2 93.2C246.7 93.7 247.1 94.2 247.6 94.7C248.0 95.2 248.4 95.7 248.9 96.2C249.3 96.7 249.8 97.2 250.2 97.7C250.6 98.2 251.1 98.7 251.5 99.2C252.0 99.7 252.4 100.1 252.9 100.6C253.3 101.1 253.8 101.6 254.2 102.1C254.7 102.6 255.1 103.0 255.6 103.5C256.0 104.0 256.5 104.5 256.9 105.0C257.4 105.5 257.9 105.9 258.3 106.4C258.8 106.9 259.2 107.4 259.7 107.9C260.1 108.3 260.6 108.8 261.0 109.3C261.5 109.8 262.0 110.3 262.4 110.7C262.9 111.2 263.3 111.7 263.8 112.2C264.2 112.7 264.7 113.1 265.1 113.6C265.6 114.1 266.1 114.6 266.5 115.1C267.0 115.6 267.4 116.0 267.9 116.5C268.3 117.0 268.8 117.5 269.2 118.0C269.7 118.5 270.1 119.0 270.6 119.5C271.0 120.0 271.5 120.4 271.9 120.9C272.4 121.4 272.8 121.9 273.2 122.4C273.7 122.9 274.1 123.4 274.6 123.9C275.0 124.4 275.5 124.9 275.9 125.4C276.4 125.9 276.8 126.4 277.2 126.9C277.7 127.4 278.1 127.9 278.6 128.4C279.0 128.9 279.5 129.4 279.9 129.9C280.4 130.4 280.8 130.9 281.2 131.4C281.7 131.9 282.1 132.4 282.6 132.9C283.0 133.4 283.4 133.9 283.9 134.4C284.3 134.8 284.8 135.3 285.2 135.8C285.7 136.3 286.1 136.8 286.6 137.3C287.0 137.8 287.4 138.3 287.9 138.8C288.3 139.3 288.8 139.8 289.2 140.3C289.7 140.8 290.1 141.3 290.6 141.8C291.0 142.3 291.4 142.8 291.9 143.3C292.3 143.8 292.8 144.3 293.2 144.8C293.7 145.3 294.1 145.8 294.6 146.3C295.0 146.8 295.5 147.3 295.9 147.8C296.4 148.3 296.8 148.8 297.3 149.3C297.7 149.7 298.2 150.2 298.6 150.7C299.1 151.2 299.6 151.7 300.0 152.2C300.5 152.7 300.9 153.2 301.4 153.7C301.8 154.1 302.3 154.6 302.8 155.1C303.2 155.6 303.7 156.1 304.1 156.6C304.6 157.0 305.1 157.5 305.5 158.0C306.0 158.5 306.5 159.0 306.9 159.4C307.4 159.9 307.9 160.4 308.3 160.9C308.8 161.3 309.3 161.8 309.8 162.3C310.2 162.7 310.7 163.2 311.2 163.7C311.7 164.1 312.1 164.6 312.6 165.1C313.1 165.5 313.6 166.0 314.1 166.4C314.6 166.9 315.1 167.4 315.5 167.8C316.0 168.2 316.5 168.7 317.0 169.1C317.5 169.6 318.0 170.0 318.5 170.4C319.0 170.9 319.5 171.3 320.1 171.7C320.6 172.1 321.1 172.5 321.6 172.9C322.1 173.3 322.7 173.7 323.2 174.1C323.7 174.5 324.3 174.9 324.8 175.3C325.3 175.6 325.9 176.0 326.4 176.4C327.0 176.7 327.6 177.1 328.1 177.4C328.7 177.7 329.3 178.1 329.8 178.4C330.4 178.7 331.0 179.0 331.6 179.3C332.2 179.6 332.8 179.9 333.4 180.2C334.0 180.5 334.6 180.7 335.2 181.0C335.8 181.2 336.5 181.5 337.1 181.7C337.7 181.9 338.4 182.2 339.0 182.4C339.6 182.6 340.3 182.8 340.9 183.0C341.6 183.1 342.2 183.3 342.9 183.5C343.6 183.7 344.2 183.8 344.9 184.0C345.5 184.1 346.2 184.3 346.9 184.4C347.5 184.5 348.2 184.7 348.9 184.8C349.5 184.9 350.2 185.0 350.9 185.1C351.5 185.2 352.2 185.3 352.9 185.4C353.5 185.4 354.2 185.5 354.9 185.6C355.5 185.7 356.2 185.7 356.9 185.8C357.5 185.8 358.2 185.9 358.8 185.9C359.5 185.9 360.2 186.0 360.8 186.0C361.5 186.0 362.2 186.1 362.8 186.1C363.5 186.1 364.2 186.1 364.8 186.1C365.5 186.1 366.1 186.1 366.8 186.1C367.5 186.1 368.1 186.1 368.8 186.1C369.4 186.1 370.1 186.0 370.8 186.0C371.4 186.0 372.1 186.0 372.8 185.9C373.4 185.9 374.1 185.9 374.7 185.8C375.4 185.8 376.1 185.8 376.7 185.7C377.4 185.7 378.0 185.7 378.7 185.6C379.4 185.6 380.0 185.5 380.7 185.5C381.4 185.4 382.0 185.4 382.7 185.3C383.3 185.3 384.0 185.2 384.7 185.2C385.3 185.1 386.0 185.1 386.7 185.0C387.3 184.9 388.0 184.9 388.7 184.8C389.3 184.8 390.0 184.7 390.6 184.7C391.3 184.6 392.0 184.6 392.6 184.5C393.3 184.5 394.0 184.4 394.6 184.4C395.3 184.3 396.0 184.3 396.7 184.2C397.3 184.2 398.0 184.1 398.7 184.1C399.3 184.0 400.0 184.0 400.7 184.0C401.3 183.9 402.2 183.9 402.7 183.9C403.1 183.8 403.3 183.8 403.4 183.8" stroke="#5B9BD5"/>
<path d="M71.5 185.5C71.8 185.5 72.8 185.5 73.5 185.5C74.2 185.5 74.8 185.5 75.5 185.5C76.2 185.5 76.9 185.5 77.5 185.5C78.2 185.4 78.9 185.4 79.5 185.4C80.2 185.4 80.9 185.3 81.5 185.3C82.2 185.3 82.9 185.2 83.5 185.2C84.2 185.1 84.9 185.1 85.5 185.1C86.2 185.0 86.8 184.9 87.5 184.9C88.2 184.8 88.8 184.8 89.5 184.7C90.2 184.7 90.8 184.6 91.5 184.5C92.1 184.5 92.8 184.4 93.5 184.3C94.1 184.2 94.8 184.2 95.5 184.1C96.1 184.0 96.8 183.9 97.4 183.8C98.1 183.8 98.8 183.7 99.4 183.6C100.1 183.5 100.7 183.4 101.4 183.3C102.1 183.2 102.7 183.1 103.4 183.0C104.0 182.9 104.7 182.8 105.3 182.7C106.0 182.6 106.7 182.5 107.3 182.4C108.0 182.3 108.6 182.2 109.3 182.1C110.0 182.0 110.6 181.9 111.3 181.8C111.9 181.7 112.6 181.6 113.2 181.5C113.9 181.4 114.6 181.3 115.2 181.1C115.9 181.0 116.5 180.9 117.2 180.8C117.8 180.7 118.5 180.6 119.2 180.5C119.8 180.3 120.5 180.2 121.1 180.1C121.8 180.0 122.4 179.9 123.1 179.7C123.8 179.6 124.4 179.5 125.1 179.4C125.7 179.3 126.4 179.1 127.0 179.0C127.7 178.9 128.4 178.8 129.0 178.6C129.7 178.5 130.3 178.4 131.0 178.2C131.6 178.1 132.3 178.0 132.9 177.8C133.6 177.7 134.2 177.5 134.9 177.4C135.5 177.2 136.2 177.1 136.8 176.9C137.5 176.8 138.1 176.6 138.8 176.5C139.4 176.3 140.1 176.1 140.7 176.0C141.4 175.8 142.0 175.6 142.6 175.5C143.3 175.3 143.9 175.1 144.6 174.9C145.2 174.7 145.8 174.5 146.5 174.3C147.1 174.1 147.7 173.9 148.4 173.7C149.0 173.5 149.6 173.3 150.2 173.1C150.9 172.9 151.5 172.6 152.1 172.4C152.7 172.2 153.4 171.9 154.0 171.7C154.6 171.4 155.2 171.2 155.8 170.9C156.4 170.6 157.0 170.4 157.6 170.1C158.3 169.8 158.9 169.5 159.5 169.2C160.1 169.0 160.7 168.7 161.3 168.3C161.9 168.0 162.5 167.7 163.0 167.4C163.6 167.1 164.2 166.7 164.8 166.4C165.4 166.0 166.0 165.7 166.6 165.3C167.1 165.0 167.7 164.6 168.3 164.2C168.8 163.8 169.4 163.5 169.9 163.1C170.5 162.7 171.0 162.3 171.6 161.9C172.1 161.4 172.6 161.0 173.1 160.6C173.7 160.2 174.2 159.7 174.6 159.3C175.1 158.9 175.6 158.4 176.1 158.0C176.5 157.5 177.0 157.0 177.4 156.6C177.8 156.1 178.3 155.6 178.7 155.1C179.1 154.7 179.5 154.2 179.9 153.7C180.3 153.2 180.7 152.7 181.1 152.2C181.5 151.7 181.9 151.1 182.3 150.6C182.7 150.1 183.1 149.6 183.5 149.1C183.9 148.5 184.3 148.0 184.7 147.4C185.1 146.9 185.4 146.4 185.8 145.8C186.2 145.3 186.6 144.7 187.0 144.1C187.4 143.6 187.8 143.0 188.2 142.5C188.6 141.9 189.0 141.3 189.4 140.7C189.8 140.2 190.2 139.6 190.5 139.0C190.9 138.4 191.3 137.8 191.6 137.2C191.9 136.7 192.3 136.1 192.6 135.5C192.9 134.9 193.2 134.3 193.5 133.7C193.8 133.1 194.0 132.5 194.3 131.9C194.6 131.3 194.8 130.7 195.1 130.0C195.3 129.4 195.5 128.8 195.8 128.2C196.0 127.6 196.2 127.0 196.5 126.4C196.7 125.8 196.9 125.2 197.2 124.5C197.4 123.9 197.6 123.3 197.8 122.7C198.1 122.1 198.3 121.4 198.5 120.8C198.8 120.2 199.0 119.6 199.2 119.0C199.4 118.3 199.6 117.7 199.9 117.1C200.1 116.5 200.3 115.8 200.5 115.2C200.7 114.6 201.0 113.9 201.2 113.3C201.4 112.7 201.6 112.1 201.8 111.4C202.0 110.8 202.2 110.2 202.4 109.5C202.6 108.9 202.8 108.3 203.0 107.6C203.3 107.0 203.5 106.4 203.7 105.7C203.9 105.1 204.1 104.4 204.2 103.8C204.4 103.2 204.6 102.5 204.8 101.9C205.0 101.3 205.2 100.6 205.4 100.0C205.6 99.3 205.8 98.7 206.0 98.1C206.2 97.4 206.3 96.8 206.5 96.1C206.7 95.5 206.9 94.8 207.1 94.2C207.2 93.6 207.4 92.9 207.6 92.3C207.8 91.6 207.9 91.0 208.1 90.3C208.3 89.7 208.4 89.0 208.6 88.4C208.8 87.7 208.9 87.1 209.1 86.5C209.3 85.8 209.4 85.2 209.6 84.5C209.7 83.9 209.9 83.2 210.1 82.6C210.2 81.9 210.4 81.3 210.6 80.6C210.7 80.0 210.9 79.3 211.1 78.7C211.2 78.0 211.4 77.4 211.6 76.7C211.8 76.1 211.9 75.4 212.1 74.8C212.3 74.2 212.5 73.5 212.7 72.9C212.9 72.2 213.1 71.6 213.3 70.9C213.5 70.3 213.7 69.6 213.9 69.0C214.1 68.3 214.4 67.7 214.6 67.0C214.8 66.4 215.1 65.8 215.3 65.1C215.6 64.5 215.9 63.9 216.2 63.3C216.5 62.7 216.8 62.1 217.2 61.5C217.5 61.0 217.9 60.4 218.3 59.9C218.7 59.4 219.1 58.9 219.6 58.5C220.0 58.1 220.5 57.8 221.0 57.6C221.4 57.5 221.9 57.4 222.4 57.6C222.9 57.7 223.4 58.0 223.9 58.3C224.4 58.6 224.9 59.1 225.3 59.6C225.8 60.0 226.3 60.6 226.8 61.1C227.2 61.6 227.7 62.2 228.2 62.7C228.6 63.3 229.1 63.9 229.5 64.4C229.9 65.0 230.3 65.6 230.7 66.2C231.1 66.8 231.5 67.3 231.8 67.9C232.2 68.5 232.6 69.1 232.9 69.7C233.3 70.3 233.6 70.9 233.9 71.5C234.3 72.0 234.6 72.6 234.9 73.2C235.2 73.8 235.6 74.4 235.9 75.0C236.2 75.6 236.5 76.1 236.8 76.7C237.2 77.3 237.5 77.9 237.8 78.4C238.2 79.0 238.5 79.6 238.8 80.1C239.2 80.7 239.5 81.2 239.9 81.8C240.3 82.4 240.6 82.9 241.0 83.4C241.4 84.0 241.7 84.5 242.1 85.1C242.5 85.6 242.9 86.1 243.3 86.7C243.7 87.2 244.1 87.7 244.5 88.2C244.9 88.7 245.3 89.3 245.7 89.8C246.1 90.3 246.5 90.8 246.9 91.3C247.4 91.8 247.8 92.3 248.2 92.8C248.6 93.3 249.1 93.9 249.5 94.4C249.9 94.9 250.4 95.4 250.8 95.9C251.2 96.4 251.7 96.8 252.1 97.3C252.6 97.8 253.0 98.3 253.5 98.8C253.9 99.3 254.4 99.8 254.8 100.3C255.3 100.8 255.7 101.3 256.2 101.8C256.6 102.3 257.1 102.8 257.5 103.2C258.0 103.7 258.4 104.2 258.9 104.7C259.3 105.2 259.8 105.7 260.2 106.2C260.7 106.7 261.1 107.2 261.6 107.7C262.0 108.2 262.5 108.7 262.9 109.1C263.4 109.6 263.8 110.1 264.3 110.6C264.7 111.1 265.2 111.6 265.6 112.1C266.1 112.6 266.5 113.1 267.0 113.6C267.4 114.1 267.9 114.6 268.3 115.1C268.8 115.6 269.2 116.1 269.7 116.6C270.1 117.1 270.5 117.6 271.0 118.1C271.4 118.6 271.9 119.1 272.3 119.6C272.8 120.1 273.2 120.6 273.6 121.1C274.1 121.6 274.5 122.2 275.0 122.7C275.4 123.2 275.8 123.7 276.3 124.2C276.7 124.7 277.2 125.2 277.6 125.7C278.0 126.2 278.5 126.7 278.9 127.2C279.4 127.7 279.8 128.2 280.2 128.7C280.7 129.2 281.1 129.7 281.6 130.2C282.0 130.7 282.4 131.2 282.9 131.7C283.3 132.2 283.8 132.7 284.2 133.3C284.6 133.8 285.1 134.3 285.5 134.8C286.0 135.3 286.4 135.8 286.8 136.3C287.3 136.8 287.7 137.3 288.1 137.8C288.6 138.3 289.0 138.8 289.5 139.3C289.9 139.8 290.3 140.3 290.8 140.8C291.2 141.3 291.7 141.8 292.1 142.3C292.6 142.8 293.0 143.3 293.4 143.8C293.9 144.3 294.3 144.8 294.8 145.3C295.2 145.8 295.6 146.3 296.1 146.8C296.5 147.3 297.0 147.8 297.4 148.3C297.9 148.8 298.3 149.3 298.8 149.7C299.2 150.2 299.6 150.7 300.1 151.2C300.5 151.7 301.0 152.2 301.4 152.7C301.9 153.2 302.3 153.7 302.8 154.2C303.2 154.7 303.7 155.1 304.1 155.6C304.6 156.1 305.0 156.6 305.5 157.1C305.9 157.6 306.4 158.0 306.8 158.5C307.3 159.0 307.7 159.5 308.2 160.0C308.7 160.4 309.1 160.9 309.6 161.4C310.0 161.9 310.5 162.3 311.0 162.8C311.4 163.3 311.9 163.7 312.4 164.2C312.8 164.6 313.3 165.1 313.8 165.6C314.3 166.0 314.7 166.5 315.2 166.9C315.7 167.4 316.2 167.8 316.7 168.2C317.2 168.7 317.7 169.1 318.2 169.5C318.7 170.0 319.2 170.4 319.7 170.8C320.2 171.2 320.7 171.6 321.2 172.0C321.7 172.5 322.3 172.9 322.8 173.3C323.3 173.6 323.9 174.0 324.4 174.4C324.9 174.8 325.5 175.2 326.0 175.5C326.6 175.9 327.2 176.3 327.7 176.6C328.3 177.0 328.9 177.3 329.5 177.7C330.0 178.0 330.6 178.3 331.2 178.7C331.8 179.0 332.4 179.3 333.0 179.6C333.6 179.9 334.3 180.2 334.9 180.5C335.5 180.8 336.1 181.1 336.7 181.3C337.4 181.6 338.0 181.8 338.6 182.1C339.2 182.3 339.9 182.6 340.5 182.8C341.2 183.0 341.8 183.3 342.4 183.5C343.1 183.7 343.7 183.9 344.4 184.1C345.0 184.2 345.7 184.4 346.3 184.6C347.0 184.7 347.6 184.9 348.3 185.0C348.9 185.2 349.6 185.3 350.2 185.4C350.9 185.5 351.5 185.6 352.2 185.7C352.8 185.8 353.5 185.9 354.2 186.0C354.8 186.1 355.5 186.2 356.1 186.2C356.8 186.3 357.5 186.4 358.1 186.4C358.8 186.5 359.4 186.5 360.1 186.5C360.8 186.6 361.4 186.6 362.1 186.6C362.7 186.6 363.4 186.6 364.1 186.6C364.7 186.7 365.4 186.7 366.1 186.6C366.7 186.6 367.4 186.6 368.1 186.6C368.7 186.6 369.4 186.6 370.1 186.6C370.7 186.5 371.4 186.5 372.1 186.5C372.7 186.4 373.4 186.4 374.1 186.4C374.7 186.3 375.4 186.3 376.1 186.2C376.7 186.2 377.4 186.1 378.1 186.1C378.8 186.0 379.4 186.0 380.1 185.9C380.8 185.9 381.4 185.8 382.1 185.8C382.8 185.7 383.4 185.6 384.1 185.6C384.8 185.5 385.4 185.5 386.1 185.4C386.8 185.3 387.4 185.3 388.1 185.2C388.8 185.2 389.4 185.1 390.1 185.1C390.8 185.0 391.4 184.9 392.1 184.9C392.8 184.8 393.4 184.8 394.1 184.7C394.8 184.7 395.4 184.6 396.1 184.6C396.7 184.6 397.4 184.5 398.1 184.5C398.7 184.4 399.4 184.4 400.0 184.4C400.7 184.4 401.5 184.3 402.0 184.3C402.6 184.3 403.2 184.3 403.4 184.3" stroke="#70AD47"/>
<path d="M71.5 184.0C71.8 184.0 72.8 184.0 73.5 184.0C74.2 184.0 74.9 184.0 75.5 184.0C76.2 184.0 76.9 184.0 77.6 184.0C78.2 184.0 78.9 184.0 79.6 183.9C80.3 183.9 80.9 183.9 81.6 183.8C82.3 183.8 82.9 183.8 83.6 183.7C84.3 183.7 84.9 183.6 85.6 183.6C86.3 183.5 86.9 183.5 87.6 183.4C88.3 183.4 88.9 183.3 89.6 183.3C90.2 183.2 90.9 183.1 91.6 183.1C92.2 183.0 92.9 182.9 93.5 182.8C94.2 182.8 94.8 182.7 95.5 182.6C96.1 182.5 96.8 182.4 97.5 182.3C98.1 182.3 98.8 182.2 99.4 182.1C100.1 182.0 100.7 181.9 101.4 181.8C102.0 181.7 102.7 181.6 103.3 181.5C104.0 181.4 104.6 181.3 105.3 181.2C105.9 181.1 106.6 181.0 107.3 180.9C107.9 180.8 108.6 180.6 109.2 180.5C109.9 180.4 110.5 180.3 111.2 180.2C111.8 180.1 112.5 180.0 113.1 179.9C113.8 179.7 114.4 179.6 115.1 179.5C115.8 179.4 116.4 179.3 117.1 179.1C117.7 179.0 118.4 178.9 119.0 178.8C119.7 178.7 120.4 178.5 121.0 178.4C121.7 178.3 122.3 178.2 123.0 178.1C123.7 177.9 124.3 177.8 125.0 177.7C125.6 177.6 126.3 177.4 127.0 177.3C127.6 177.2 128.3 177.1 128.9 176.9C129.6 176.8 130.3 176.7 130.9 176.5C131.6 176.4 132.2 176.3 132.9 176.1C133.6 176.0 134.2 175.8 134.9 175.7C135.5 175.5 136.2 175.4 136.9 175.2C137.5 175.1 138.2 174.9 138.8 174.8C139.5 174.6 140.1 174.4 140.8 174.3C141.4 174.1 142.1 173.9 142.7 173.7C143.4 173.6 144.0 173.4 144.6 173.2C145.3 173.0 145.9 172.8 146.6 172.6C147.2 172.4 147.8 172.2 148.5 172.0C149.1 171.8 149.7 171.5 150.3 171.3C151.0 171.1 151.6 170.9 152.2 170.6C152.8 170.4 153.4 170.2 154.1 169.9C154.7 169.6 155.3 169.4 155.9 169.1C156.5 168.9 157.1 168.6 157.7 168.3C158.3 168.0 158.9 167.7 159.5 167.4C160.1 167.1 160.7 166.8 161.2 166.5C161.8 166.2 162.4 165.9 163.0 165.6C163.5 165.2 164.1 164.9 164.7 164.5C165.2 164.2 165.8 163.8 166.3 163.5C166.9 163.1 167.4 162.7 168.0 162.3C168.5 161.9 169.1 161.5 169.6 161.1C170.1 160.7 170.7 160.3 171.2 159.9C171.7 159.5 172.2 159.0 172.7 158.6C173.2 158.2 173.7 157.7 174.2 157.3C174.7 156.8 175.2 156.4 175.7 155.9C176.2 155.4 176.6 154.9 177.1 154.5C177.6 154.0 178.0 153.5 178.5 153.0C178.9 152.5 179.4 152.0 179.8 151.5C180.2 151.0 180.7 150.5 181.1 150.0C181.5 149.4 181.9 148.9 182.3 148.4C182.7 147.9 183.1 147.3 183.5 146.8C183.9 146.2 184.3 145.7 184.6 145.2C185.0 144.6 185.4 144.1 185.7 143.5C186.1 142.9 186.4 142.4 186.8 141.8C187.1 141.2 187.4 140.7 187.8 140.1C188.1 139.5 188.4 138.9 188.7 138.4C189.0 137.8 189.3 137.2 189.7 136.6C190.0 136.0 190.3 135.4 190.6 134.8C190.9 134.2 191.1 133.7 191.4 133.1C191.7 132.5 192.0 131.9 192.3 131.3C192.6 130.7 192.8 130.0 193.1 129.4C193.4 128.8 193.7 128.2 193.9 127.6C194.2 127.0 194.5 126.4 194.7 125.8C195.0 125.2 195.2 124.5 195.5 123.9C195.7 123.3 196.0 122.7 196.2 122.1C196.5 121.5 196.7 120.8 196.9 120.2C197.2 119.6 197.4 119.0 197.7 118.3C197.9 117.7 198.1 117.1 198.3 116.4C198.6 115.8 198.8 115.2 199.0 114.6C199.2 113.9 199.5 113.3 199.7 112.7C199.9 112.0 200.1 111.4 200.3 110.7C200.5 110.1 200.7 109.5 200.9 108.8C201.2 108.2 201.4 107.6 201.6 106.9C201.8 106.3 202.0 105.6 202.2 105.0C202.4 104.4 202.6 103.7 202.8 103.1C202.9 102.4 203.1 101.8 203.3 101.2C203.5 100.5 203.7 99.9 203.9 99.2C204.1 98.6 204.3 97.9 204.5 97.3C204.6 96.7 204.8 96.0 205.0 95.4C205.2 94.7 205.4 94.1 205.5 93.4C205.7 92.8 205.9 92.2 206.1 91.5C206.3 90.9 206.4 90.2 206.6 89.6C206.8 88.9 207.0 88.3 207.1 87.7C207.3 87.0 207.5 86.4 207.7 85.7C207.8 85.1 208.0 84.5 208.2 83.8C208.3 83.2 208.5 82.5 208.7 81.9C208.8 81.3 209.0 80.6 209.2 80.0C209.4 79.4 209.5 78.7 209.7 78.1C209.9 77.5 210.0 76.8 210.2 76.2C210.4 75.6 210.5 75.0 210.7 74.3C210.9 73.7 211.0 73.1 211.2 72.4C211.4 71.8 211.6 71.2 211.8 70.5C211.9 69.9 212.1 69.3 212.3 68.6C212.5 68.0 212.7 67.3 212.9 66.7C213.1 66.0 213.4 65.4 213.6 64.7C213.8 64.0 214.1 63.4 214.3 62.7C214.6 62.0 214.8 61.3 215.1 60.6C215.4 59.9 215.7 59.2 216.0 58.5C216.3 57.8 216.7 57.2 217.0 56.6C217.4 55.9 217.7 55.3 218.1 54.9C218.5 54.4 218.9 53.9 219.4 53.7C219.8 53.4 220.3 53.2 220.7 53.2C221.2 53.2 221.7 53.3 222.2 53.5C222.7 53.6 223.2 53.9 223.7 54.3C224.2 54.6 224.7 55.0 225.2 55.4C225.7 55.9 226.1 56.4 226.6 56.9C227.1 57.3 227.5 57.9 227.9 58.4C228.3 58.9 228.7 59.4 229.1 60.0C229.5 60.5 229.9 61.1 230.2 61.6C230.6 62.2 230.9 62.8 231.3 63.4C231.6 64.0 231.9 64.6 232.2 65.2C232.6 65.8 232.9 66.4 233.2 67.0C233.5 67.6 233.8 68.2 234.1 68.8C234.4 69.5 234.7 70.1 234.9 70.7C235.2 71.3 235.5 72.0 235.8 72.6C236.1 73.2 236.4 73.8 236.7 74.4C237.0 75.1 237.3 75.7 237.6 76.3C237.9 76.9 238.2 77.5 238.5 78.1C238.8 78.7 239.1 79.3 239.5 79.9C239.8 80.5 240.1 81.0 240.5 81.6C240.8 82.2 241.2 82.7 241.6 83.3C241.9 83.9 242.3 84.4 242.7 85.0C243.0 85.5 243.4 86.1 243.8 86.6C244.2 87.1 244.6 87.7 245.0 88.2C245.4 88.7 245.8 89.2 246.2 89.8C246.6 90.3 247.0 90.8 247.4 91.3C247.8 91.8 248.3 92.3 248.7 92.8C249.1 93.3 249.5 93.8 250.0 94.3C250.4 94.8 250.8 95.3 251.3 95.8C251.7 96.3 252.2 96.8 252.6 97.3C253.0 97.8 253.5 98.2 253.9 98.7C254.4 99.2 254.8 99.7 255.3 100.2C255.7 100.7 256.2 101.2 256.6 101.6C257.1 102.1 257.6 102.6 258.0 103.1C258.5 103.6 258.9 104.1 259.4 104.5C259.8 105.0 260.3 105.5 260.7 106.0C261.2 106.5 261.6 107.0 262.1 107.4C262.5 107.9 263.0 108.4 263.4 108.9C263.9 109.4 264.3 109.9 264.8 110.4C265.2 110.9 265.7 111.4 266.1 111.9C266.6 112.4 267.0 112.9 267.5 113.4C267.9 113.8 268.3 114.3 268.8 114.8C269.2 115.3 269.7 115.8 270.1 116.3C270.6 116.8 271.0 117.3 271.4 117.8C271.9 118.3 272.3 118.8 272.8 119.4C273.2 119.9 273.6 120.4 274.1 120.9C274.5 121.4 275.0 121.9 275.4 122.4C275.8 122.9 276.3 123.4 276.7 123.9C277.1 124.4 277.6 124.9 278.0 125.4C278.5 125.9 278.9 126.4 279.3 126.9C279.8 127.4 280.2 127.9 280.6 128.5C281.1 129.0 281.5 129.5 281.9 130.0C282.4 130.5 282.8 131.0 283.3 131.5C283.7 132.0 284.1 132.5 284.6 133.0C285.0 133.5 285.4 134.0 285.9 134.6C286.3 135.1 286.7 135.6 287.2 136.1C287.6 136.6 288.0 137.1 288.5 137.6C288.9 138.1 289.3 138.6 289.8 139.1C290.2 139.6 290.7 140.1 291.1 140.6C291.5 141.2 292.0 141.7 292.4 142.2C292.8 142.7 293.3 143.2 293.7 143.7C294.2 144.2 294.6 144.7 295.0 145.2C295.5 145.7 295.9 146.2 296.3 146.7C296.8 147.2 297.2 147.7 297.7 148.2C298.1 148.7 298.5 149.2 299.0 149.7C299.4 150.2 299.9 150.7 300.3 151.2C300.7 151.7 301.2 152.2 301.6 152.7C302.1 153.2 302.5 153.7 303.0 154.2C303.4 154.7 303.9 155.2 304.3 155.7C304.7 156.2 305.2 156.7 305.6 157.1C306.1 157.6 306.5 158.1 307.0 158.6C307.4 159.1 307.9 159.6 308.3 160.1C308.8 160.5 309.2 161.0 309.7 161.5C310.2 162.0 310.6 162.5 311.1 162.9C311.5 163.4 312.0 163.9 312.5 164.3C312.9 164.8 313.4 165.3 313.9 165.7C314.4 166.2 314.8 166.7 315.3 167.1C315.8 167.6 316.3 168.0 316.8 168.5C317.2 168.9 317.7 169.3 318.2 169.8C318.7 170.2 319.2 170.6 319.7 171.1C320.2 171.5 320.7 171.9 321.3 172.3C321.8 172.7 322.3 173.1 322.8 173.5C323.3 173.9 323.9 174.3 324.4 174.7C325.0 175.1 325.5 175.5 326.0 175.9C326.6 176.2 327.2 176.6 327.7 177.0C328.3 177.3 328.9 177.7 329.4 178.0C330.0 178.4 330.6 178.7 331.2 179.0C331.8 179.4 332.4 179.7 333.0 180.0C333.6 180.3 334.2 180.6 334.8 180.9C335.4 181.2 336.0 181.5 336.6 181.8C337.2 182.0 337.9 182.3 338.5 182.6C339.1 182.8 339.7 183.1 340.4 183.3C341.0 183.5 341.6 183.8 342.3 184.0C342.9 184.2 343.6 184.4 344.2 184.6C344.8 184.8 345.5 185.0 346.1 185.1C346.8 185.3 347.4 185.5 348.1 185.6C348.7 185.7 349.4 185.9 350.0 186.0C350.7 186.1 351.3 186.3 352.0 186.4C352.6 186.5 353.3 186.6 353.9 186.7C354.6 186.7 355.3 186.8 355.9 186.9C356.6 187.0 357.2 187.0 357.9 187.1C358.5 187.1 359.2 187.2 359.9 187.2C360.5 187.3 361.2 187.3 361.9 187.3C362.5 187.4 363.2 187.4 363.9 187.4C364.5 187.4 365.2 187.4 365.9 187.4C366.5 187.4 367.2 187.4 367.9 187.4C368.5 187.4 369.2 187.4 369.9 187.3C370.5 187.3 371.2 187.3 371.9 187.3C372.5 187.2 373.2 187.2 373.9 187.2C374.5 187.1 375.2 187.1 375.9 187.1C376.5 187.0 377.2 187.0 377.9 186.9C378.6 186.9 379.2 186.8 379.9 186.8C380.6 186.7 381.2 186.7 381.9 186.6C382.6 186.6 383.2 186.5 383.9 186.4C384.6 186.4 385.2 186.3 385.9 186.3C386.6 186.2 387.3 186.1 387.9 186.1C388.6 186.0 389.3 186.0 389.9 185.9C390.6 185.9 391.2 185.8 391.9 185.7C392.6 185.7 393.2 185.6 393.9 185.6C394.6 185.5 395.2 185.5 395.9 185.4C396.6 185.4 397.2 185.3 397.9 185.3C398.5 185.3 399.2 185.2 399.8 185.2C400.5 185.2 401.2 185.1 401.8 185.1C402.4 185.1 403.1 185.1 403.4 185.0" stroke="#264478"/>
</g>
<text x="60.5" y="206.3" font-size="11" text-anchor="end">0.00</text>
<text x="60.5" y="180.2" font-size="11" text-anchor="end">0.02</text>
<text x="60.5" y="154.1" font-size="11" text-anchor="end">0.04</text>
<text x="60.5" y="128.0" font-size="11" text-anchor="end">0.06</text>
<text x="60.5" y="101.9" font-size="11" text-anchor="end">0.08</text>
<text x="60.5" y="75.8" font-size="11" text-anchor="end">0.10</text>
<text x="60.5" y="49.7" font-size="11" text-anchor="end">0.12</text>
<text x="60.5" y="23.6" font-size="11" text-anchor="end">0.14</text>
<text x="71.4" y="222" font-size="11" text-anchor="middle">0.39</text>
<text x="154.2" y="222" font-size="11" text-anchor="middle">0.49</text>
<text x="237.0" y="222" font-size="11" text-anchor="middle">0.59</text>
<text x="319.9" y="222" font-size="11" text-anchor="middle">0.69</text>
<text x="402.7" y="222" font-size="11" text-anchor="middle">0.79</text>
<text x="165.6" y="240" font-size="13" textLength="142.5" lengthAdjust="spacingAndGlyphs">Potential (V, vs Ag/AgCl)</text>
<text transform="translate(32.8 150.5) rotate(-90)" font-size="13" textLength="77.9" lengthAdjust="spacingAndGlyphs">Current (mA)</text>
<line x1="86" x2="105" y1="34.20" y2="34.20" stroke="#4472C4" stroke-width="1.6"/>
<text x="106.5" y="38.20" font-size="11">0.0 ppm</text>
<line x1="86" x2="105" y1="52.87" y2="52.87" stroke="#ED7D31" stroke-width="1.6"/>
<text x="106.5" y="56.87" font-size="11">0.2 ppm</text>
<line x1="86" x2="105" y1="71.54" y2="71.54" stroke="#A5A5A5" stroke-width="1.6"/>
<text x="106.5" y="75.54" font-size="11">0.4 ppm</text>
<line x1="86" x2="105" y1="90.21" y2="90.21" stroke="#FFC000" stroke-width="1.6"/>
<text x="106.5" y="94.21" font-size="11">0.6 ppm</text>
<line x1="86" x2="105" y1="108.88" y2="108.88" stroke="#5B9BD5" stroke-width="1.6"/>
<text x="106.5" y="112.88" font-size="11">0.8 ppm</text>
<line x1="86" x2="105" y1="127.55" y2="127.55" stroke="#70AD47" stroke-width="1.6"/>
<text x="106.5" y="131.55" font-size="11">1 ppm</text>
<line x1="86" x2="105" y1="146.22" y2="146.22" stroke="#264478" stroke-width="1.6"/>
<text x="106.5" y="150.22" font-size="11">3 ppm</text>
<rect x="7.6" y="271.5" width="26.1" height="24.2" rx="1.2" fill="#fff" stroke="#7a7a7a" stroke-width="1"/>
<text x="20.3" y="285.4" font-size="11" font-weight="bold" text-anchor="middle" style="font-family:'Liberation Serif',serif;stroke:none">B</text>
<rect x="78.4" y="282.8" width="331.8" height="221.8" fill="none" stroke="#4f4f4f" stroke-width="1.1" stroke-linejoin="round"/>
<path d="M75.2 504.60H78.4M75.2 472.91H78.4M75.2 441.23H78.4M75.2 409.54H78.4M75.2 377.86H78.4M75.2 346.17H78.4M75.2 314.49H78.4M75.2 282.80H78.4M78.40 504.6V507.6M133.70 504.6V507.6M189.00 504.6V507.6M244.30 504.6V507.6M299.60 504.6V507.6M354.90 504.6V507.6M410.20 504.6V507.6" stroke="#4f4f4f" stroke-width="1" fill="none"/>
<text x="68.9" y="507.6" font-size="10" letter-spacing="0.35" text-anchor="end">0</text>
<text x="68.9" y="475.9" font-size="10" letter-spacing="0.35" text-anchor="end">0.02</text>
<text x="68.9" y="444.2" font-size="10" letter-spacing="0.35" text-anchor="end">0.04</text>
<text x="68.9" y="412.5" font-size="10" letter-spacing="0.35" text-anchor="end">0.06</text>
<text x="68.9" y="380.9" font-size="10" letter-spacing="0.35" text-anchor="end">0.08</text>
<text x="68.9" y="349.2" font-size="10" letter-spacing="0.35" text-anchor="end">0.1</text>
<text x="68.9" y="317.5" font-size="10" letter-spacing="0.35" text-anchor="end">0.12</text>
<text x="68.9" y="285.8" font-size="10" letter-spacing="0.35" text-anchor="end">0.14</text>
<text x="78.4" y="522.8" font-size="10" letter-spacing="0.35" text-anchor="middle">0</text>
<text x="133.7" y="522.8" font-size="10" letter-spacing="0.35" text-anchor="middle">0.2</text>
<text x="189.0" y="522.8" font-size="10" letter-spacing="0.35" text-anchor="middle">0.4</text>
<text x="244.3" y="522.8" font-size="10" letter-spacing="0.35" text-anchor="middle">0.6</text>
<text x="299.6" y="522.8" font-size="10" letter-spacing="0.35" text-anchor="middle">0.8</text>
<text x="354.9" y="522.8" font-size="10" letter-spacing="0.35" text-anchor="middle">1</text>
<text x="410.2" y="522.8" font-size="10" letter-spacing="0.35" text-anchor="middle">1.2</text>
<text x="186.2" y="540.3" font-size="13" textLength="116.6" lengthAdjust="spacingAndGlyphs">Concentration (ppm)</text>
<text transform="translate(42 443.8) rotate(-90)" font-size="13" textLength="102.5" lengthAdjust="spacingAndGlyphs">Peak current (mA)</text>
<line x1="78.40" y1="385.62" x2="354.90" y2="324.31" stroke="#000" stroke-width="1.4" stroke-linecap="butt"/>
<path d="M78.40 382.6V394.6M78.40 382.6H80.50M78.40 394.6H80.50M133.70 367.5V380.5M131.60 367.5H135.80M131.60 380.5H135.80M189.00 349.9V364.7M186.90 349.9H191.10M186.90 364.7H191.10M244.30 338.1V354.1M242.20 338.1H246.40M242.20 354.1H246.40M299.60 328.2V344.7M297.50 328.2H301.70M297.50 344.7H301.70M354.90 318.5V336.5M352.80 318.5H357.00M352.80 336.5H357.00" stroke="#888" stroke-width="1" fill="none"/>
<circle cx="78.40" cy="389.0" r="2.5" fill="#000"/>
<circle cx="133.70" cy="373.9" r="2.5" fill="#000"/>
<circle cx="189.00" cy="357.2" r="2.5" fill="#000"/>
<circle cx="244.30" cy="345.9" r="2.5" fill="#000"/>
<circle cx="299.60" cy="336.5" r="2.5" fill="#000"/>
<circle cx="354.90" cy="327.3" r="2.5" fill="#000"/>
<text x="176.1" y="407" font-size="11.5" textLength="123.6" lengthAdjust="spacingAndGlyphs">y = 0.0387x + 0.0748</text>
<text x="203.4" y="422.9" font-size="11.5" textLength="68.9" lengthAdjust="spacingAndGlyphs">R² = 0.9853</text>
</svg></body></html>
